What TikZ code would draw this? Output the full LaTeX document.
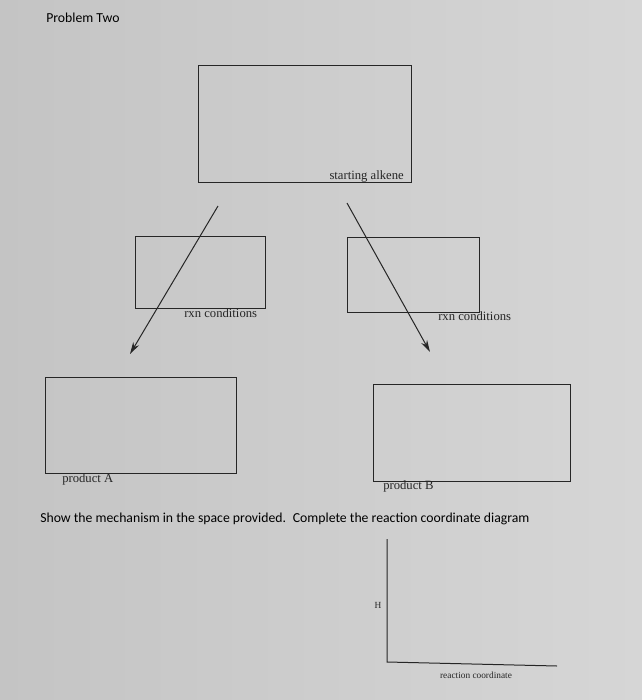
\documentclass[tikz,border=0pt]{standalone}
\usepackage{fontspec}
\setmainfont{Liberation Serif}
\newfontfamily\calibri{Carlito}
\usetikzlibrary{arrows.meta}
\definecolor{paper}{HTML}{C4C4C4}
\definecolor{paperlight}{HTML}{D6D6D6}
\definecolor{ink}{HTML}{262626}
\begin{document}
\begin{tikzpicture}[x=0.75pt, y=-0.75pt,
  box/.style={draw=ink, line width=0.75pt, inner sep=0pt},
  lbl/.style={text=ink, font=\fontsize{9.5}{11}\selectfont, inner sep=0pt},
  tiny/.style={text=ink, font=\fontsize{7}{8}\selectfont, inner sep=0pt},
  sans/.style={text=black, font=\calibri\fontsize{10.3}{12}\selectfont, inner sep=0pt},
  rxn/.style={draw=ink, line width=0.75pt, -{Stealth[length=9pt, width=5pt]}}]
\useasboundingbox (0,0) rectangle (642,700);
\shade[left color=paper, right color=paperlight] (0,0) rectangle (642,700);
\node[sans, anchor=base west] (title) at (46,22) {Problem Two};
\node[box, minimum width=159.75pt, minimum height=87.75pt] (alkene) at (304.5,123.5) {};
\node[lbl, anchor=base east] (alkenelbl) at (404,179) {starting alkene};
\node[box, minimum width=97.5pt, minimum height=54pt] (rxnA) at (200,272) {};
\node[lbl, anchor=base west] (rxnAlbl) at (184,317) {rxn conditions};
\node[box, minimum width=99pt, minimum height=56.25pt] (rxnB) at (413,274.5) {};
\node[lbl, anchor=base west] (rxnBlbl) at (438,320) {rxn conditions};
\coordinate (startA) at (218,206);
\coordinate (endA) at (130,354);
\coordinate (startB) at (347,203);
\coordinate (endB) at (430,352);
\draw[rxn](startA) -- (endA);
\draw[rxn](startB) -- (endB);
\node[box, minimum width=143.25pt, minimum height=72pt] (prodA) at (140.5,425) {};
\node[lbl, anchor=base west] (prodAlbl) at (62,482) {product A};
\node[box, minimum width=147.75pt, minimum height=72.75pt] (prodB) at (471.5,432.5) {};
\node[lbl, anchor=base west] (prodBlbl) at (383,489) {product B};
\node[sans, anchor=base west] (task) at (40,522) {Show the mechanism in the space provided.\enspace Complete the reaction coordinate diagram};
\coordinate (ytop) at (387,539);
\coordinate (orig) at (387,662);
\coordinate (xend) at (557,666);
\draw[draw=ink, line width=0.75pt](ytop) -- (orig) -- (xend);
\node[tiny] (Hlbl) at (378,605) {H};
\node[tiny] (xlbl) at (476,675) {reaction coordinate};
\end{tikzpicture}
\end{document}
